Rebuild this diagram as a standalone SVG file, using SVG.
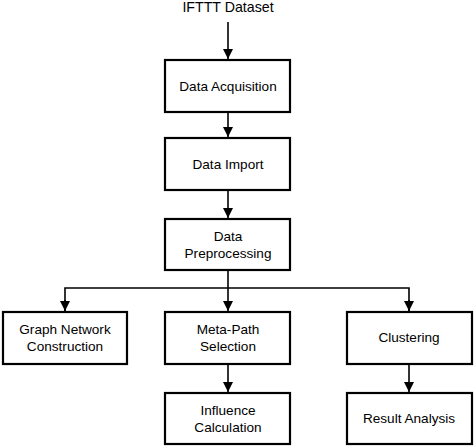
<svg xmlns="http://www.w3.org/2000/svg" width="474" height="447" viewBox="0 0 474 447">
<style>
.box{fill:#fff;stroke:#000;stroke-width:2.2}
.t{font-family:"Liberation Sans",Arial,sans-serif;font-size:13.6px;fill:#000;text-anchor:middle}
.c{fill:none;stroke:#000;stroke-width:1.6}
</style>
<defs>
<marker id="ah" markerWidth="10" markerHeight="10" refX="10" refY="5" orient="auto" markerUnits="userSpaceOnUse">
<path d="M0,0 L10,5 L0,10 Z" fill="#000"/>
</marker>
</defs>
<rect width="474" height="447" fill="#fff"/>
<text class="t" x="228" y="12" style="font-size:14.2px">IFTTT Dataset</text>
<g id="connectors">
<line class="c" x1="228" y1="22" x2="228" y2="59" marker-end="url(#ah)"/>
<line class="c" x1="228" y1="112" x2="228" y2="137" marker-end="url(#ah)"/>
<line class="c" x1="228" y1="190" x2="228" y2="218" marker-end="url(#ah)"/>
<line class="c" x1="228" y1="270" x2="228" y2="311" marker-end="url(#ah)"/>
<path class="c" d="M65,311 V288 H409 V311"/>
<line class="c" x1="65" y1="300" x2="65" y2="311" marker-end="url(#ah)"/>
<line class="c" x1="409" y1="300" x2="409" y2="311" marker-end="url(#ah)"/>
<line class="c" x1="228" y1="364" x2="228" y2="392" marker-end="url(#ah)"/>
<line class="c" x1="409" y1="364" x2="409" y2="392" marker-end="url(#ah)"/>
</g>
<g id="data-acquisition"><rect class="box" x="165" y="60" width="125" height="52"/><text class="t" x="228" y="91">Data Acquisition</text></g>
<g id="data-import"><rect class="box" x="165" y="138" width="125" height="52"/><text class="t" x="228" y="169">Data Import</text></g>
<g id="data-preprocessing"><rect class="box" x="165" y="219" width="125" height="51"/><text class="t" x="228" y="241">Data</text><text class="t" x="228" y="258">Preprocessing</text></g>
<g id="graph-network"><rect class="box" x="3" y="312" width="124" height="52"/><text class="t" x="65" y="334">Graph Network</text><text class="t" x="65" y="351">Construction</text></g>
<g id="meta-path"><rect class="box" x="165" y="312" width="125" height="52"/><text class="t" x="228" y="334">Meta-Path</text><text class="t" x="228" y="351">Selection</text></g>
<g id="clustering"><rect class="box" x="347" y="312" width="125" height="52"/><text class="t" x="409" y="342">Clustering</text></g>
<g id="influence"><rect class="box" x="165" y="393" width="125" height="51"/><text class="t" x="228" y="415">Influence</text><text class="t" x="228" y="432">Calculation</text></g>
<g id="result-analysis"><rect class="box" x="347" y="393" width="125" height="51"/><text class="t" x="409" y="423">Result Analysis</text></g>
</svg>
